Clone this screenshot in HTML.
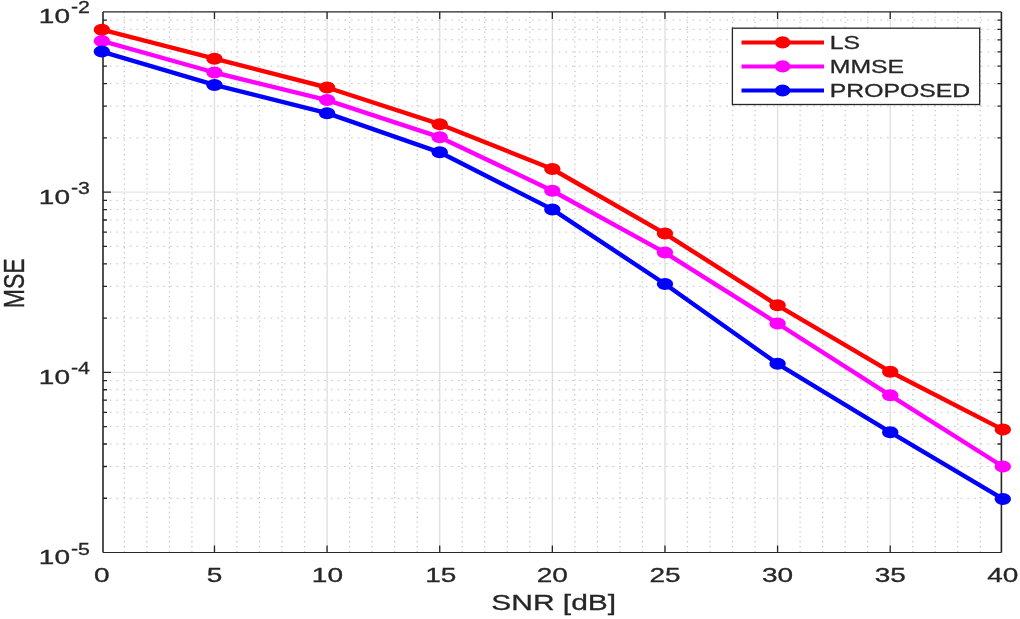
<!DOCTYPE html><html><head><meta charset="utf-8"><title>MSE vs SNR</title><style>html,body{margin:0;padding:0;background:#fff;overflow:hidden}svg{display:block;filter:blur(0.45px)}text{font-family:"Liberation Sans",Arial,Helvetica,sans-serif;fill:#262626}</style></head><body>
<svg width="1020" height="619" viewBox="0 0 1020 619">
<rect width="1020" height="619" fill="#fff"/>
<path d="M124.37 11.9V552.5M146.89 11.9V552.5M169.41 11.9V552.5M191.94 11.9V552.5M236.99 11.9V552.5M259.51 11.9V552.5M282.04 11.9V552.5M304.56 11.9V552.5M349.62 11.9V552.5M372.14 11.9V552.5M394.66 11.9V552.5M417.19 11.9V552.5M462.24 11.9V552.5M484.76 11.9V552.5M507.29 11.9V552.5M529.81 11.9V552.5M574.87 11.9V552.5M597.39 11.9V552.5M619.91 11.9V552.5M642.44 11.9V552.5M687.49 11.9V552.5M710.01 11.9V552.5M732.54 11.9V552.5M755.06 11.9V552.5M800.12 11.9V552.5M822.64 11.9V552.5M845.16 11.9V552.5M867.69 11.9V552.5M912.74 11.9V552.5M935.26 11.9V552.5M957.79 11.9V552.5M980.31 11.9V552.5" stroke="#c8c8c8" stroke-width="1.3" stroke-dasharray="1.3 3.6" fill="none"/>
<path d="M103.0 498.25H1001.4M103.0 466.52H1001.4M103.0 444.01H1001.4M103.0 426.55H1001.4M103.0 412.28H1001.4M103.0 400.21H1001.4M103.0 389.76H1001.4M103.0 380.55H1001.4M103.0 318.05H1001.4M103.0 286.32H1001.4M103.0 263.81H1001.4M103.0 246.35H1001.4M103.0 232.08H1001.4M103.0 220.01H1001.4M103.0 209.56H1001.4M103.0 200.35H1001.4M103.0 137.85H1001.4M103.0 106.12H1001.4M103.0 83.61H1001.4M103.0 66.15H1001.4M103.0 51.88H1001.4M103.0 39.81H1001.4M103.0 29.36H1001.4M103.0 20.15H1001.4" stroke="#c8c8c8" stroke-width="1.0" stroke-dasharray="1.8 4.9" fill="none"/>
<path d="M214.47 11.9V552.5M327.09 11.9V552.5M439.72 11.9V552.5M552.34 11.9V552.5M664.97 11.9V552.5M777.59 11.9V552.5M890.22 11.9V552.5" stroke="#dedede" stroke-width="1.3" fill="none"/>
<path d="M103.0 192.10H1001.4M103.0 372.30H1001.4" stroke="#dedede" stroke-width="1.0" fill="none"/>
<path d="M214.47 552.5v-7.0M214.47 11.9v7.0M327.09 552.5v-7.0M327.09 11.9v7.0M439.72 552.5v-7.0M439.72 11.9v7.0M552.34 552.5v-7.0M552.34 11.9v7.0M664.97 552.5v-7.0M664.97 11.9v7.0M777.59 552.5v-7.0M777.59 11.9v7.0M890.22 552.5v-7.0M890.22 11.9v7.0M103.0 192.10h8M1001.4 192.10h-8M103.0 372.30h8M1001.4 372.30h-8M103.0 498.25h4M1001.4 498.25h-4M103.0 466.52h4M1001.4 466.52h-4M103.0 444.01h4M1001.4 444.01h-4M103.0 426.55h4M1001.4 426.55h-4M103.0 412.28h4M1001.4 412.28h-4M103.0 400.21h4M1001.4 400.21h-4M103.0 389.76h4M1001.4 389.76h-4M103.0 380.55h4M1001.4 380.55h-4M103.0 318.05h4M1001.4 318.05h-4M103.0 286.32h4M1001.4 286.32h-4M103.0 263.81h4M1001.4 263.81h-4M103.0 246.35h4M1001.4 246.35h-4M103.0 232.08h4M1001.4 232.08h-4M103.0 220.01h4M1001.4 220.01h-4M103.0 209.56h4M1001.4 209.56h-4M103.0 200.35h4M1001.4 200.35h-4M103.0 137.85h4M1001.4 137.85h-4M103.0 106.12h4M1001.4 106.12h-4M103.0 83.61h4M1001.4 83.61h-4M103.0 66.15h4M1001.4 66.15h-4M103.0 51.88h4M1001.4 51.88h-4M103.0 39.81h4M1001.4 39.81h-4M103.0 29.36h4M1001.4 29.36h-4M103.0 20.15h4M1001.4 20.15h-4" stroke="#262626" stroke-width="1.3" fill="none"/>
<path d="M103.0 11.9H1001.4M103.0 552.5H1001.4" stroke="#262626" stroke-width="1.2" fill="none"/>
<path d="M103.0 11.9V552.5M1001.4 11.9V552.5" stroke="#262626" stroke-width="1.6" fill="none"/>
<polyline points="101.84,29.70 214.47,58.70 327.09,87.50 439.72,124.20 552.34,169.00 664.97,233.60 777.59,305.30 890.22,371.70 1002.84,429.60" stroke="#ff0000" stroke-width="4.4" fill="none" stroke-linejoin="round"/>
<ellipse cx="101.84" cy="29.70" rx="8.2" ry="6.0" fill="#ff0000"/>
<ellipse cx="214.47" cy="58.70" rx="8.2" ry="6.0" fill="#ff0000"/>
<ellipse cx="327.09" cy="87.50" rx="8.2" ry="6.0" fill="#ff0000"/>
<ellipse cx="439.72" cy="124.20" rx="8.2" ry="6.0" fill="#ff0000"/>
<ellipse cx="552.34" cy="169.00" rx="8.2" ry="6.0" fill="#ff0000"/>
<ellipse cx="664.97" cy="233.60" rx="8.2" ry="6.0" fill="#ff0000"/>
<ellipse cx="777.59" cy="305.30" rx="8.2" ry="6.0" fill="#ff0000"/>
<ellipse cx="890.22" cy="371.70" rx="8.2" ry="6.0" fill="#ff0000"/>
<ellipse cx="1002.84" cy="429.60" rx="8.2" ry="6.0" fill="#ff0000"/>
<polyline points="101.84,40.90 214.47,72.50 327.09,100.10 439.72,137.20 552.34,190.70 664.97,252.60 777.59,323.50 890.22,395.30 1002.84,466.50" stroke="#ff00ff" stroke-width="4.4" fill="none" stroke-linejoin="round"/>
<ellipse cx="101.84" cy="40.90" rx="8.2" ry="6.0" fill="#ff00ff"/>
<ellipse cx="214.47" cy="72.50" rx="8.2" ry="6.0" fill="#ff00ff"/>
<ellipse cx="327.09" cy="100.10" rx="8.2" ry="6.0" fill="#ff00ff"/>
<ellipse cx="439.72" cy="137.20" rx="8.2" ry="6.0" fill="#ff00ff"/>
<ellipse cx="552.34" cy="190.70" rx="8.2" ry="6.0" fill="#ff00ff"/>
<ellipse cx="664.97" cy="252.60" rx="8.2" ry="6.0" fill="#ff00ff"/>
<ellipse cx="777.59" cy="323.50" rx="8.2" ry="6.0" fill="#ff00ff"/>
<ellipse cx="890.22" cy="395.30" rx="8.2" ry="6.0" fill="#ff00ff"/>
<ellipse cx="1002.84" cy="466.50" rx="8.2" ry="6.0" fill="#ff00ff"/>
<polyline points="101.84,51.60 214.47,84.90 327.09,113.20 439.72,152.30 552.34,209.40 664.97,284.00 777.59,363.80 890.22,432.20 1002.84,498.90" stroke="#0000ff" stroke-width="4.4" fill="none" stroke-linejoin="round"/>
<ellipse cx="101.84" cy="51.60" rx="8.2" ry="6.0" fill="#0000ff"/>
<ellipse cx="214.47" cy="84.90" rx="8.2" ry="6.0" fill="#0000ff"/>
<ellipse cx="327.09" cy="113.20" rx="8.2" ry="6.0" fill="#0000ff"/>
<ellipse cx="439.72" cy="152.30" rx="8.2" ry="6.0" fill="#0000ff"/>
<ellipse cx="552.34" cy="209.40" rx="8.2" ry="6.0" fill="#0000ff"/>
<ellipse cx="664.97" cy="284.00" rx="8.2" ry="6.0" fill="#0000ff"/>
<ellipse cx="777.59" cy="363.80" rx="8.2" ry="6.0" fill="#0000ff"/>
<ellipse cx="890.22" cy="432.20" rx="8.2" ry="6.0" fill="#0000ff"/>
<ellipse cx="1002.84" cy="498.90" rx="8.2" ry="6.0" fill="#0000ff"/>
<text transform="translate(101.84 582) scale(1.36 1)" font-size="20.6" text-anchor="middle" stroke="#262626" stroke-width="0.3">0</text>
<text transform="translate(214.47 582) scale(1.36 1)" font-size="20.6" text-anchor="middle" stroke="#262626" stroke-width="0.3">5</text>
<text transform="translate(327.39 582) scale(1.36 1)" font-size="20.6" text-anchor="middle" stroke="#262626" stroke-width="0.3">10</text>
<text transform="translate(440.72 582) scale(1.36 1)" font-size="20.6" text-anchor="middle" stroke="#262626" stroke-width="0.3">15</text>
<text transform="translate(552.34 582) scale(1.36 1)" font-size="20.6" text-anchor="middle" stroke="#262626" stroke-width="0.3">20</text>
<text transform="translate(664.97 582) scale(1.36 1)" font-size="20.6" text-anchor="middle" stroke="#262626" stroke-width="0.3">25</text>
<text transform="translate(777.59 582) scale(1.36 1)" font-size="20.6" text-anchor="middle" stroke="#262626" stroke-width="0.3">30</text>
<text transform="translate(890.22 582) scale(1.36 1)" font-size="20.6" text-anchor="middle" stroke="#262626" stroke-width="0.3">35</text>
<text transform="translate(1002.84 582) scale(1.36 1)" font-size="20.6" text-anchor="middle" stroke="#262626" stroke-width="0.3">40</text>
<text transform="translate(70.0 23.40) scale(1.36 1)" font-size="20.6" text-anchor="end" stroke="#262626" stroke-width="0.3">10</text>
<text transform="translate(70.9 12.80) scale(1.3 1)" font-size="16.4" stroke="#262626" stroke-width="0.3"><tspan dy="-0.8">-</tspan><tspan dy="0.8">2</tspan></text>
<text transform="translate(70.0 203.60) scale(1.36 1)" font-size="20.6" text-anchor="end" stroke="#262626" stroke-width="0.3">10</text>
<text transform="translate(70.9 193.80) scale(1.3 1)" font-size="16.4" stroke="#262626" stroke-width="0.3"><tspan dy="-0.8">-</tspan><tspan dy="0.8">3</tspan></text>
<text transform="translate(70.0 383.80) scale(1.36 1)" font-size="20.6" text-anchor="end" stroke="#262626" stroke-width="0.3">10</text>
<text transform="translate(70.9 373.60) scale(1.3 1)" font-size="16.4" stroke="#262626" stroke-width="0.3"><tspan dy="-0.8">-</tspan><tspan dy="0.8">4</tspan></text>
<text transform="translate(70.0 564.00) scale(1.36 1)" font-size="20.6" text-anchor="end" stroke="#262626" stroke-width="0.3">10</text>
<text transform="translate(70.9 554.70) scale(1.3 1)" font-size="16.4" stroke="#262626" stroke-width="0.3"><tspan dy="-0.8">-</tspan><tspan dy="0.8">5</tspan></text>
<text transform="translate(553.7 610.2) scale(1.315 1)" font-size="22.8" text-anchor="middle" stroke="#262626" stroke-width="0.3">SNR [dB]</text>
<text transform="translate(24.2 283.3) rotate(-90) scale(1 1.31)" font-size="23.0" text-anchor="middle" stroke="#262626" stroke-width="0.3">MSE</text>
<rect x="732.4" y="28.2" width="247.30" height="76.30" fill="#fff" stroke="#262626" stroke-width="1.3"/>
<path d="M741.5 42.4H824" stroke="#ff0000" stroke-width="4.0" fill="none"/>
<ellipse cx="782.6" cy="42.4" rx="7.7" ry="6.1" fill="#ff0000"/>
<text transform="translate(829.8 48.70) scale(1.325 1)" font-size="18.7" stroke="#262626" stroke-width="0.3">LS</text>
<path d="M741.5 66.4H824" stroke="#ff00ff" stroke-width="4.0" fill="none"/>
<ellipse cx="782.6" cy="66.4" rx="7.7" ry="6.1" fill="#ff00ff"/>
<text transform="translate(829.8 72.70) scale(1.325 1)" font-size="18.7" stroke="#262626" stroke-width="0.3">MMSE</text>
<path d="M741.5 90.5H824" stroke="#0000ff" stroke-width="4.0" fill="none"/>
<ellipse cx="782.6" cy="90.5" rx="7.7" ry="6.1" fill="#0000ff"/>
<text transform="translate(829.8 96.80) scale(1.325 1)" font-size="18.7" stroke="#262626" stroke-width="0.3">PROPOSED</text>
</svg></body></html>
